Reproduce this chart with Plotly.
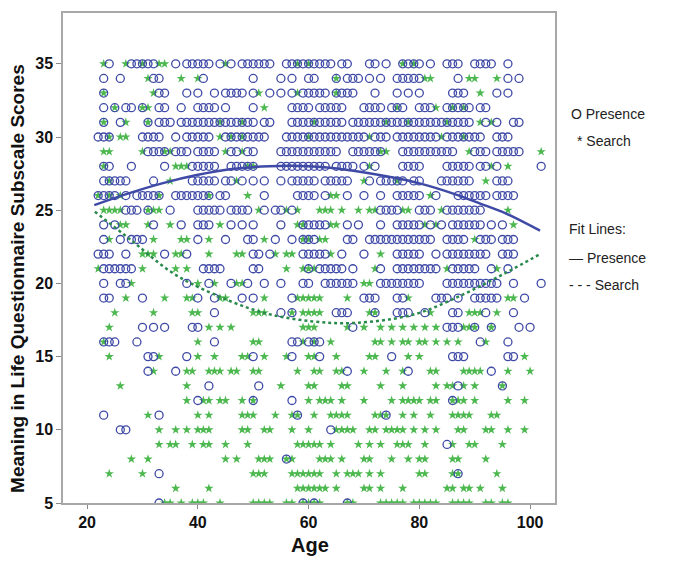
import plotly.graph_objects as go

# ---- Data: ages of respondents at each subscale score ----
# Presence (open circles)
presence_35 = [24, 28, 29, 30, 31, 32, 36, 38, 39, 40, 41, 42, 44, 46, 48, 49, 50, 51, 52, 53, 56, 57, 58, 59, 60, 61, 62, 63, 64, 66, 67, 71, 72, 74, 77, 78, 79, 80, 82, 85, 86, 87, 90, 91, 92, 93, 96]
presence_34 = [23, 26, 32, 33, 41, 50, 55, 57, 60, 61, 65, 67, 68, 69, 71, 73, 76, 77, 78, 79, 80, 87, 96, 98]
presence_33 = [23, 33, 34, 38, 40, 43, 45, 46, 47, 48, 50, 53, 55, 57, 59, 60, 61, 62, 63, 65, 66, 67, 68, 72, 76, 78, 80, 86, 87, 88, 94, 96]
presence_32 = [23, 25, 27, 28, 30, 33, 34, 37, 40, 41, 42, 43, 45, 50, 57, 58, 59, 60, 62, 63, 64, 65, 66, 70, 71, 72, 73, 75, 76, 77, 80, 81, 82, 85, 86, 87, 88, 89, 91, 92]
presence_31 = [23, 26, 31, 33, 34, 35, 37, 38, 39, 40, 41, 42, 43, 44, 45, 46, 47, 48, 49, 50, 52, 53, 57, 58, 59, 60, 61, 62, 63, 64, 65, 66, 68, 69, 70, 71, 72, 73, 74, 75, 76, 77, 78, 79, 80, 81, 82, 83, 84, 85, 86, 87, 88, 89, 92, 94, 97, 98]
presence_30 = [22, 23, 24, 30, 31, 32, 33, 36, 38, 39, 40, 41, 42, 45, 46, 47, 48, 49, 50, 51, 52, 56, 57, 58, 59, 60, 61, 62, 63, 64, 65, 66, 67, 68, 69, 70, 72, 73, 74, 76, 77, 78, 79, 80, 81, 82, 83, 85, 86, 87, 88, 89, 90, 91, 94, 95, 96]
presence_29 = [31, 32, 33, 34, 36, 37, 38, 40, 41, 42, 43, 46, 47, 49, 50, 55, 56, 57, 58, 59, 60, 61, 62, 63, 64, 65, 68, 69, 70, 71, 72, 73, 77, 78, 79, 80, 81, 82, 83, 84, 85, 86, 90, 91, 92, 94, 95, 96, 97, 98]
presence_28 = [23, 24, 28, 34, 39, 40, 41, 42, 43, 46, 47, 48, 49, 50, 55, 56, 57, 58, 59, 60, 61, 62, 63, 65, 66, 67, 68, 70, 72, 77, 78, 79, 80, 85, 86, 87, 88, 89, 91, 92, 94, 102]
presence_27 = [23, 24, 25, 26, 27, 32, 39, 40, 41, 42, 43, 45, 46, 48, 50, 52, 55, 57, 58, 59, 60, 61, 63, 64, 65, 66, 67, 71, 73, 74, 75, 76, 77, 79, 80, 84, 85, 86, 87, 88, 89, 94, 95, 96]
presence_26 = [22, 23, 24, 25, 27, 29, 30, 31, 32, 33, 36, 37, 38, 39, 40, 41, 42, 44, 45, 52, 58, 59, 60, 61, 63, 67, 70, 73, 76, 77, 78, 79, 80, 83, 87, 88, 89, 90, 91, 92, 94, 95, 96, 97]
presence_25 = [27, 28, 29, 31, 35, 40, 41, 42, 43, 44, 46, 47, 48, 49, 52, 54, 55, 57, 73, 74, 75, 76, 80, 81, 82, 85, 86, 87, 88, 89, 90, 91]
presence_24 = [23, 25, 32, 37, 40, 41, 42, 46, 48, 50, 55, 59, 60, 61, 62, 63, 67, 69, 73, 76, 77, 78, 79, 80, 82, 84, 86, 87, 88, 89, 90, 91, 93, 95]
presence_23 = [23, 26, 28, 29, 30, 40, 45, 49, 50, 54, 57, 59, 60, 61, 67, 68, 71, 72, 73, 74, 75, 76, 77, 78, 79, 80, 81, 82, 85, 86, 87, 88, 91, 92, 93, 95, 96, 97]
presence_22 = [22, 23, 24, 27, 34, 38, 50, 51, 53, 59, 60, 61, 62, 63, 66, 70, 76, 77, 78, 79, 80, 83, 85, 86, 87, 88, 89, 90, 91, 92, 95, 96, 97]
presence_21 = [23, 24, 25, 26, 27, 28, 41, 42, 43, 44, 50, 51, 60, 62, 63, 64, 65, 66, 68, 73, 76, 77, 78, 79, 80, 81, 82, 83, 86, 87, 88, 89, 90, 93, 96]
presence_20 = [23, 26, 27, 38, 42, 46, 49, 52, 55, 59, 60, 63, 64, 65, 66, 67, 68, 73, 74, 75, 76, 77, 78, 79, 80, 85, 86, 87, 88, 89, 90, 91, 92, 93, 94, 97, 102]
presence_19 = [23, 24, 30, 40, 43, 48, 50, 57, 70, 71, 72, 76, 77, 83, 84, 85, 87, 90, 91, 92, 93, 94, 99]
presence_18 = [43, 55, 57, 65, 66, 67, 72, 76, 77, 78, 81, 86, 87, 92, 97]
presence_17 = [30, 32, 34, 39, 40, 68, 85, 86, 87, 90, 93, 98, 100]
presence_16 = [23, 24, 25, 29, 43, 57, 58, 60, 61, 62, 91, 96]
presence_15 = [31, 32, 38, 50, 57, 62, 75, 86, 87, 88, 96, 97]
presence_14 = [31, 36, 67, 78, 93]
presence_13 = [42, 51, 87, 95]
presence_12 = [40, 50, 57, 86]
presence_11 = [23, 33, 58, 74]
presence_10 = [26, 27, 64]
presence_9 = [85]
presence_8 = [56]
presence_7 = [33, 87]
presence_6 = []
presence_5 = [33, 59, 61, 67]

# Search (stars)
search_35 = [23, 27, 30, 33, 34, 45, 58, 60, 77, 79]
search_34 = [31, 37, 40, 65, 81, 82, 89, 90, 94]
search_33 = [23, 32, 51, 58, 65, 91]
search_32 = [25, 30, 31, 52, 76, 83, 86, 88]
search_31 = [23, 27, 31, 44, 48, 61, 74, 78, 85, 91, 93]
search_30 = [24, 26, 27, 44, 46, 48, 60, 71, 84, 88]
search_29 = [23, 24, 30, 34, 35, 45, 48, 73, 74, 89, 102]
search_28 = [23, 36, 37, 38, 49, 50, 71, 93, 96]
search_27 = [24, 35, 47, 70, 76, 92]
search_26 = [22, 24, 26, 33, 42, 49, 64, 65, 82]
search_25 = [23, 24, 25, 26, 31, 32, 33, 51, 56, 58, 62, 63, 64, 66, 69, 71, 72, 77, 78, 84, 96]
search_24 = [26, 27, 31, 35, 44, 58, 59, 64, 65, 81, 83, 97]
search_23 = [24, 32, 37, 38, 42, 52, 59, 60, 62, 63, 90]
search_22 = [30, 31, 32, 36, 37, 42, 47, 48, 54, 56, 57, 64, 73]
search_21 = [22, 30, 36, 38, 56, 59, 60, 61, 72, 85, 94]
search_20 = [28, 40, 43, 47, 48, 70, 71]
search_19 = [27, 34, 38, 39, 44, 45, 52, 58, 59, 60, 61, 62, 67, 78, 96, 97]
search_18 = [25, 32, 39, 40, 50, 51, 52, 57, 59, 60, 61, 62, 71, 72, 82, 89, 90, 91, 94]
search_17 = [24, 42, 44, 46, 59, 60, 61, 67, 70, 73, 75, 77, 79, 81, 83, 88, 89, 90, 93]
search_16 = [23, 40, 50, 51, 59, 61, 64, 72, 73, 75, 77, 78, 80, 81, 83, 85, 87, 92]
search_15 = [24, 33, 40, 43, 48, 49, 52, 56, 60, 61, 65, 71, 72, 78, 80, 99]
search_14 = [32, 38, 39, 42, 43, 44, 46, 47, 50, 51, 58, 61, 62, 65, 66, 70, 74, 77, 82, 83, 88, 89, 90, 91, 96, 100]
search_13 = [26, 38, 55, 60, 61, 66, 67, 73, 77, 83, 85, 86, 88, 90, 95]
search_12 = [38, 41, 42, 44, 45, 48, 50, 60, 62, 63, 64, 66, 70, 75, 77, 78, 79, 80, 82, 83, 86, 87, 88, 90, 96, 99]
search_11 = [31, 40, 42, 48, 49, 50, 54, 57, 58, 61, 64, 65, 66, 67, 72, 73, 74, 77, 79, 82, 86, 87, 88, 89, 93, 94]
search_10 = [33, 36, 38, 40, 41, 42, 48, 49, 52, 53, 57, 60, 65, 66, 67, 68, 71, 72, 74, 75, 76, 77, 79, 81, 83, 87, 88, 92, 93, 96, 99]
search_9 = [33, 35, 36, 39, 41, 42, 45, 49, 58, 59, 60, 61, 62, 64, 69, 71, 73, 76, 77, 78, 81, 86, 89, 90, 95]
search_8 = [28, 31, 45, 47, 51, 52, 53, 56, 57, 62, 63, 64, 66, 70, 71, 75, 78, 80, 81, 86, 87, 92]
search_7 = [24, 30, 50, 51, 52, 57, 58, 59, 60, 61, 62, 65, 67, 68, 69, 71, 73, 80, 81, 86, 87, 94]
search_6 = [36, 42, 58, 59, 60, 61, 62, 63, 65, 70, 71, 73, 77, 85, 86, 88, 89, 91, 95]
search_5 = [34, 35, 37, 39, 40, 41, 44, 50, 51, 52, 53, 56, 57, 59, 60, 61, 62, 67, 68, 73, 74, 75, 76, 77, 79, 80, 81, 82, 83, 86, 87, 88, 89, 92, 93, 95, 96]

# Quadratic fit lines
fit_age_presence = [21.3, 27.5, 33.7, 39.8, 45.8, 52.9, 60.0, 67.1, 74.3, 80.4, 86.4, 91.0, 95.5, 101.8]
fit_presence = [25.35, 26.15, 26.85, 27.4, 27.8, 28.0, 28.0, 27.75, 27.3, 26.8, 26.1, 25.45, 24.8, 23.6]
fit_age_search = [21.4, 27.8, 35.5, 42.7, 51.8, 60.8, 68.4, 79.2, 88.2, 95.5, 101.8]
fit_search = [24.9, 23.0, 20.7, 19.3, 18.0, 17.4, 17.3, 17.9, 19.3, 20.7, 22.0]

x_ticks = [20, 40, 60, 80, 100]
y_ticks = [5, 10, 15, 20, 25, 30, 35]

# ---- Build flat point lists ----
g = globals()
scores = list(range(35, 4, -1))
p_x, p_y, s_x, s_y = [], [], [], []
for sc in scores:
    for a in g[f"presence_{sc}"]:
        p_x.append(a); p_y.append(sc)
    for a in g[f"search_{sc}"]:
        s_x.append(a); s_y.append(sc)

BLUE = "#3f4aa6"
GREEN = "#4cb84f"
DGREEN = "#2a8a4e"
FONT = "Liberation Sans, Arial, sans-serif"

fig = go.Figure()
fig.add_trace(go.Scatter(x=s_x, y=s_y, mode="markers",
                         marker=dict(symbol="star", size=7, color=GREEN, line=dict(width=0)),
                         showlegend=False))
fig.add_trace(go.Scatter(x=p_x, y=p_y, mode="markers",
                         marker=dict(symbol="circle-open", size=8, color=BLUE, line=dict(width=1.3, color=BLUE)),
                         showlegend=False))
fig.add_trace(go.Scatter(x=fit_age_presence, y=fit_presence, mode="lines",
                         line=dict(color=BLUE, width=2.5, shape="spline"), showlegend=False))
fig.add_trace(go.Scatter(x=fit_age_search, y=fit_search, mode="lines",
                         line=dict(color=DGREEN, width=2.5, dash="dot", shape="spline"), showlegend=False))

L, R, T, B = 63, 118, 11, 62
W, H = 673, 565
pw = W - L - R
ph = H - T - B

def px(xp):
    return (xp - L) / pw

def py(yp):
    return (H - B - yp) / ph

ann = []
legend_items = [("O Presence", 569, 112), ("* Search", 575, 140), ("Fit Lines:", 567, 228),
                ("\u2014 Presence", 567, 257), ("- - - Search", 567, 284)]
for txt, xx, yy in legend_items:
    ann.append(dict(text=txt, x=px(xx), y=py(yy), xref="paper", yref="paper",
                    xanchor="left", yanchor="middle", showarrow=False,
                    font=dict(family=FONT, size=14, color="#222222")))
ann.append(dict(text="<b>Meaning in Life Questionnaire Subscale Scores</b>", x=px(18), y=py(278),
                xref="paper", yref="paper", textangle=-90, xanchor="center", yanchor="middle",
                showarrow=False, font=dict(family=FONT, size=19, color="#111111")))
ann.append(dict(text="<b>Age</b>", x=px(310), y=py(545), xref="paper", yref="paper",
                xanchor="center", yanchor="middle", showarrow=False,
                font=dict(family=FONT, size=20, color="#111111")))

fig.update_layout(
    width=W, height=H, margin=dict(l=L, r=R, t=T, b=B),
    paper_bgcolor="white", plot_bgcolor="white",
    annotations=ann,
    xaxis=dict(range=[15.65, 104.5], tickvals=x_ticks, ticktext=[f"<b>{v}</b>" for v in x_ticks],
               showgrid=False, zeroline=False, showline=True, linecolor="#a8a8a8", linewidth=1.5,
               mirror=True, ticks="outside", ticklen=4, tickcolor="#888888",
               tickfont=dict(family=FONT, size=16, color="#111111")),
    yaxis=dict(range=[5, 38.47], tickvals=y_ticks, ticktext=[f"<b>{v}</b>" for v in y_ticks],
               showgrid=False, zeroline=False, showline=True, linecolor="#a8a8a8", linewidth=1.5,
               mirror=True, ticks="outside", ticklen=5, tickcolor="#888888",
               tickfont=dict(family=FONT, size=16, color="#111111")),
)

fig.write_html("out.html")
